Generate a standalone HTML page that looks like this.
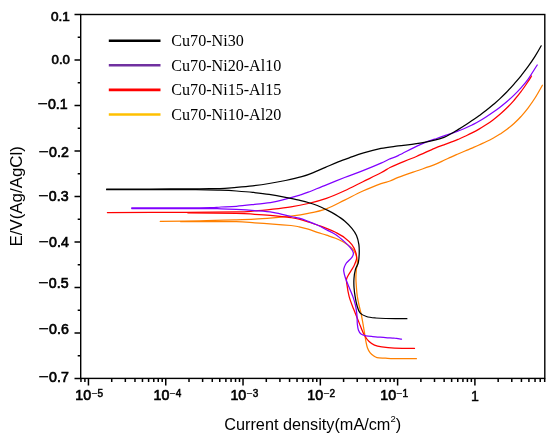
<!DOCTYPE html>
<html><head><meta charset="utf-8"><title>Polarization curves</title>
<style>html,body{margin:0;padding:0;background:#fff}svg{display:block}text{font-family:"Liberation Sans",sans-serif;fill:#000}.b{font-size:13.5px;stroke:#000;stroke-width:.65px}.s{font-size:10px;stroke-width:.5px}.sm{stroke:none;font-size:11px}.m{font-size:18.5px;stroke:none}.lg{font-family:"Liberation Serif",serif;font-size:16.1px}</style></head>
<body>
<svg width="550" height="439" viewBox="0 0 550 439">
<rect width="550" height="439" fill="#fff"/>
<g fill="none" stroke-width="1.25" stroke-linejoin="round" stroke-linecap="round">
<path stroke="#ff8000" d="M160.2,221.3 C166.8,221.2 187.3,221.1 200.0,220.9 C212.7,220.7 227.3,220.2 236.4,219.9 C245.5,219.6 248.5,219.5 254.6,219.2 C260.7,218.9 266.8,218.4 272.9,217.9 C279.0,217.4 285.1,216.9 291.0,216.2 C296.9,215.4 302.3,214.6 308.2,213.4 C314.1,212.2 320.3,211.0 326.4,208.8 C332.5,206.6 338.5,203.1 344.6,200.1 C350.7,197.1 356.8,193.7 362.9,191.0 C369.0,188.3 376.5,185.4 381.0,183.7 C385.5,182.0 387.1,182.1 390.0,181.0 C392.9,179.9 393.8,179.1 398.2,177.4 C402.6,175.7 410.3,173.1 416.4,171.0 C422.5,168.9 430.0,166.5 434.6,164.7 C439.2,162.9 441.3,161.6 444.0,160.3 C446.7,159.0 448.7,158.2 451.0,157.1 C453.3,156.0 455.7,155.0 458.0,154.0 C460.3,153.0 462.7,152.0 465.0,151.0 C467.3,150.0 469.7,149.1 472.0,148.1 C474.3,147.1 476.7,146.1 479.0,145.0 C481.3,143.9 483.7,142.9 486.0,141.8 C488.3,140.7 490.7,139.5 493.0,138.2 C495.3,136.9 497.7,135.6 500.0,134.1 C502.3,132.6 504.7,131.1 507.0,129.3 C509.3,127.5 511.7,125.6 514.0,123.5 C516.3,121.4 518.7,119.1 521.0,116.5 C523.3,113.9 525.7,111.2 528.0,108.1 C530.3,105.0 532.6,101.8 535.0,98.0 C537.4,94.2 541.2,87.3 542.4,85.2"/>
<path stroke="#ff8000" d="M180.5,221.6 C185.4,221.6 200.7,221.5 210.0,221.5 C219.3,221.5 229.0,221.5 236.4,221.7 C243.8,221.9 248.5,222.4 254.6,222.8 C260.7,223.2 266.8,223.7 272.9,224.1 C279.0,224.5 286.6,225.1 291.0,225.5 C295.4,225.9 296.2,226.2 299.1,226.8 C302.0,227.4 305.2,228.3 308.2,229.2 C311.2,230.1 314.3,231.3 317.3,232.3 C320.3,233.3 323.4,234.2 326.4,235.2 C329.4,236.2 332.5,237.0 335.5,238.3 C338.5,239.6 341.9,241.1 344.6,242.8 C347.3,244.5 350.1,246.5 351.9,248.3 C353.7,250.1 354.7,251.7 355.6,253.8 C356.5,255.9 357.2,258.9 357.4,261.0 C357.6,263.1 357.2,265.1 357.0,266.5 C356.8,267.9 356.6,267.2 356.4,269.1 C356.2,271.1 355.9,275.2 355.9,278.2 C355.9,281.2 356.2,284.3 356.4,287.3 C356.6,290.3 356.9,293.4 357.3,296.4 C357.8,299.4 358.4,302.5 359.1,305.5 C359.8,308.5 360.7,311.6 361.3,314.6 C361.9,317.7 362.5,320.8 363.0,323.8 C363.5,326.9 364.0,329.9 364.5,332.9 C365.0,335.9 365.5,339.5 366.0,342.0 C366.5,344.5 366.8,346.2 367.5,348.0 C368.2,349.8 369.0,351.3 370.0,352.6 C371.0,353.9 372.3,355.0 373.5,355.8 C374.7,356.6 375.0,357.2 377.0,357.6 C379.0,358.0 382.6,358.0 385.5,358.2 C388.4,358.4 389.4,358.6 394.5,358.7 C399.6,358.8 412.8,358.7 416.4,358.7"/>
<path stroke="#ff0000" d="M107.4,212.5 C120.8,212.5 166.5,212.4 188.0,212.3 C209.5,212.2 225.3,212.1 236.4,211.9 C247.5,211.7 248.5,211.4 254.6,211.0 C260.7,210.6 266.8,209.9 272.9,209.2 C279.0,208.5 285.1,207.8 291.0,206.8 C296.9,205.9 302.3,204.9 308.2,203.5 C314.1,202.1 320.3,200.4 326.4,198.3 C332.5,196.2 338.5,193.5 344.6,190.7 C350.7,187.9 356.8,184.7 362.9,181.7 C369.0,178.7 376.5,175.2 381.0,172.8 C385.5,170.4 387.1,169.0 390.0,167.5 C392.9,166.0 393.8,165.6 398.2,163.8 C402.6,162.0 410.3,159.1 416.4,156.5 C422.5,153.9 430.0,150.2 434.6,148.3 C439.2,146.4 441.3,145.8 444.0,144.8 C446.7,143.8 448.7,143.1 451.0,142.2 C453.3,141.3 455.7,140.4 458.0,139.4 C460.3,138.4 462.7,137.4 465.0,136.3 C467.3,135.2 469.7,134.1 472.0,132.9 C474.3,131.7 476.7,130.4 479.0,129.1 C481.3,127.8 483.7,126.3 486.0,124.8 C488.3,123.3 490.7,121.7 493.0,119.9 C495.3,118.2 497.7,116.3 500.0,114.3 C502.3,112.3 504.7,110.1 507.0,107.8 C509.3,105.5 511.7,103.0 514.0,100.3 C516.3,97.6 518.7,94.8 521.0,91.7 C523.3,88.6 526.2,84.3 528.0,81.7 C529.8,79.1 530.9,77.0 531.5,76.0"/>
<path stroke="#ff0000" d="M187.8,212.8 C195.9,212.9 225.3,213.1 236.4,213.3 C247.5,213.6 248.5,213.9 254.6,214.3 C260.7,214.7 266.8,215.0 272.9,215.6 C279.0,216.2 286.6,217.1 291.0,217.7 C295.4,218.3 296.2,218.4 299.1,219.1 C302.0,219.8 305.2,220.9 308.2,221.9 C311.2,222.9 314.3,223.9 317.3,225.0 C320.3,226.1 323.4,227.1 326.4,228.3 C329.4,229.5 332.5,230.7 335.5,232.3 C338.5,233.9 341.9,235.6 344.6,237.7 C347.3,239.8 350.1,242.2 351.9,244.6 C353.7,247.0 354.8,249.5 355.6,251.9 C356.4,254.3 356.8,256.8 356.5,259.2 C356.2,261.6 354.4,264.8 353.6,266.5 C352.8,268.2 353.0,267.4 351.9,269.4 C350.8,271.3 347.6,275.8 346.8,278.2 C346.0,280.6 346.4,280.7 346.8,283.7 C347.2,286.7 348.0,292.2 349.1,296.4 C350.2,300.6 352.2,305.5 353.6,309.1 C355.0,312.7 356.1,315.2 357.3,318.2 C358.5,321.2 359.7,324.4 360.9,327.3 C362.1,330.2 363.1,333.1 364.5,335.5 C365.9,337.9 367.4,339.9 369.1,341.5 C370.8,343.1 372.4,344.2 374.5,345.1 C376.6,346.0 378.5,346.4 381.8,346.9 C385.1,347.4 389.1,347.9 394.5,348.2 C399.9,348.4 411.2,348.4 414.5,348.4"/>
<path stroke="#8000ff" d="M131.7,207.9 C143.1,207.9 186.6,207.9 200.0,207.8 C213.4,207.8 208.5,207.7 212.0,207.6 C215.5,207.5 216.9,207.2 221.0,207.0 C225.1,206.8 230.8,206.7 236.4,206.3 C242.0,205.9 248.5,205.1 254.6,204.4 C260.7,203.7 266.8,203.3 272.9,202.2 C279.0,201.1 286.5,198.8 291.0,197.6 C295.5,196.4 297.1,195.9 300.0,195.0 C302.9,194.1 303.8,193.9 308.2,192.2 C312.6,190.5 320.3,187.2 326.4,184.8 C332.5,182.4 338.5,179.9 344.6,177.5 C350.7,175.1 356.8,173.0 362.9,170.6 C369.0,168.2 376.5,165.1 381.0,163.1 C385.5,161.1 387.1,160.1 390.0,158.8 C392.9,157.6 393.8,157.7 398.2,155.6 C402.6,153.5 411.8,148.6 416.4,146.4 C420.9,144.2 422.5,143.5 425.5,142.3 C428.5,141.1 431.5,140.3 434.6,139.2 C437.7,138.1 441.3,136.8 444.0,135.9 C446.7,135.0 448.7,134.4 451.0,133.6 C453.3,132.8 455.7,132.0 458.0,131.1 C460.3,130.2 462.7,129.3 465.0,128.3 C467.3,127.3 469.7,126.2 472.0,125.0 C474.3,123.8 476.7,122.6 479.0,121.3 C481.3,120.0 483.7,118.5 486.0,117.0 C488.3,115.5 490.7,113.9 493.0,112.3 C495.3,110.7 497.7,109.0 500.0,107.2 C502.3,105.4 504.7,103.5 507.0,101.5 C509.3,99.5 511.7,97.4 514.0,95.1 C516.3,92.8 518.7,90.4 521.0,87.8 C523.3,85.2 525.3,83.1 528.0,79.3 C530.7,75.5 535.7,67.4 537.2,65.0"/>
<path stroke="#8000ff" d="M131.7,208.6 C143.1,208.6 185.1,208.6 200.0,208.6 C214.9,208.6 214.9,208.7 221.0,208.8 C227.1,208.9 230.8,209.1 236.4,209.4 C242.0,209.7 248.5,210.1 254.6,210.6 C260.7,211.1 266.8,211.4 272.9,212.4 C279.0,213.4 286.6,215.5 291.0,216.5 C295.4,217.5 296.2,217.4 299.1,218.2 C302.0,219.0 305.2,220.2 308.2,221.3 C311.2,222.4 314.3,223.6 317.3,225.0 C320.3,226.4 323.4,228.1 326.4,229.7 C329.4,231.3 332.5,232.6 335.5,234.6 C338.5,236.6 342.2,239.8 344.6,241.9 C347.0,244.0 348.6,245.6 350.1,247.4 C351.6,249.2 353.1,251.1 353.4,252.8 C353.7,254.5 353.0,255.7 351.9,257.4 C350.8,259.1 347.8,261.3 346.5,262.9 C345.2,264.5 344.9,265.7 344.4,267.0 C343.9,268.3 343.5,269.0 343.7,270.9 C343.9,272.8 344.6,275.5 345.5,278.2 C346.4,280.9 347.9,284.3 349.1,287.3 C350.3,290.3 351.7,293.4 352.8,296.4 C353.9,299.4 354.8,302.5 355.5,305.5 C356.2,308.5 356.6,311.6 356.9,314.6 C357.2,317.7 357.1,321.2 357.3,323.8 C357.6,326.4 357.8,328.3 358.4,330.0 C359.0,331.7 359.7,333.0 361.0,334.0 C362.3,335.0 364.1,335.4 366.0,335.8 C367.9,336.2 369.4,336.3 372.7,336.6 C375.9,336.9 381.9,337.3 385.5,337.6 C389.1,337.9 391.8,337.9 394.5,338.2 C397.2,338.4 400.3,339.0 401.5,339.1"/>
<path stroke="#000000" d="M106.6,189.0 C113.8,189.0 134.4,189.0 150.0,189.0 C165.6,189.0 188.3,188.9 200.0,188.8 C211.7,188.7 213.9,188.8 220.0,188.6 C226.1,188.4 231.0,187.8 236.4,187.4 C241.8,187.0 247.2,186.6 252.7,185.9 C258.1,185.2 263.6,184.4 269.1,183.5 C274.6,182.6 280.1,181.6 285.5,180.5 C290.9,179.4 297.3,178.0 301.8,176.7 C306.3,175.4 308.8,174.4 312.7,172.8 C316.6,171.2 321.1,169.2 325.4,167.4 C329.6,165.6 333.9,163.6 338.2,161.9 C342.4,160.2 346.7,158.7 350.9,157.2 C355.1,155.7 358.6,154.4 363.6,152.9 C368.6,151.4 375.2,149.6 381.0,148.4 C386.8,147.2 392.3,146.7 398.2,145.9 C404.1,145.1 410.3,144.7 416.4,143.7 C422.5,142.7 430.0,141.1 434.6,140.1 C439.2,139.1 441.3,138.4 444.0,137.4 C446.7,136.4 448.7,135.1 451.0,133.8 C453.3,132.5 455.7,131.0 458.0,129.6 C460.3,128.2 462.7,126.7 465.0,125.2 C467.3,123.7 469.7,122.2 472.0,120.6 C474.3,119.0 476.7,117.4 479.0,115.7 C481.3,114.0 483.7,112.3 486.0,110.5 C488.3,108.7 490.7,106.8 493.0,104.8 C495.3,102.8 497.7,100.8 500.0,98.6 C502.3,96.4 504.7,94.1 507.0,91.7 C509.3,89.3 511.7,86.8 514.0,84.1 C516.3,81.4 518.7,78.7 521.0,75.8 C523.3,72.9 525.7,69.9 528.0,66.7 C530.3,63.5 532.8,59.9 535.0,56.4 C537.2,52.9 540.2,47.6 541.2,45.8"/>
<path stroke="#000000" d="M106.6,189.7 C113.8,189.7 135.1,189.7 150.0,189.7 C164.9,189.7 184.3,189.6 196.0,189.7 C207.7,189.8 213.3,190.0 220.0,190.2 C226.7,190.4 231.0,190.6 236.4,191.0 C241.8,191.4 247.2,191.8 252.7,192.4 C258.1,193.0 263.6,193.6 269.1,194.4 C274.6,195.2 280.5,196.3 285.5,197.3 C290.5,198.3 295.3,199.3 299.1,200.2 C302.9,201.1 305.2,201.6 308.2,202.5 C311.2,203.4 314.3,204.3 317.3,205.5 C320.3,206.7 323.4,208.2 326.4,209.7 C329.4,211.2 332.5,212.7 335.5,214.6 C338.5,216.5 341.9,218.7 344.6,221.0 C347.3,223.3 349.9,225.9 351.9,228.3 C353.9,230.7 355.3,232.8 356.5,235.5 C357.7,238.2 358.4,241.5 358.9,244.6 C359.3,247.7 359.3,250.8 359.2,253.8 C359.1,256.9 358.9,260.3 358.3,262.9 C357.7,265.4 356.2,266.6 355.5,269.1 C354.8,271.7 354.2,275.2 354.0,278.2 C353.8,281.2 353.8,284.3 354.0,287.3 C354.2,290.3 354.6,293.4 355.1,296.4 C355.6,299.4 356.2,302.8 357.0,305.5 C357.8,308.2 358.4,311.0 360.0,312.8 C361.6,314.6 363.8,315.6 366.4,316.5 C369.0,317.4 372.3,317.7 375.5,318.0 C378.7,318.3 380.3,318.4 385.5,318.5 C390.7,318.6 403.3,318.7 406.9,318.7"/>
</g>
<rect x="80.7" y="14.5" width="464.1" height="363.9" fill="none" stroke="#000" stroke-width="1.4"/>
<path d="M80.7,14.50H74.5M80.7,37.24H77.7M80.7,59.99H74.5M80.7,82.73H77.7M80.7,105.47H74.5M80.7,128.22H77.7M80.7,150.96H74.5M80.7,173.71H77.7M80.7,196.45H74.5M80.7,219.19H77.7M80.7,241.94H74.5M80.7,264.68H77.7M80.7,287.43H74.5M80.7,310.17H77.7M80.7,332.91H74.5M80.7,355.66H77.7M80.7,378.40H74.5M80.96,378.4V381.9M84.91,378.4V381.9M88.45,378.4V385.4M111.72,378.4V381.9M125.33,378.4V381.9M134.98,378.4V381.9M142.47,378.4V381.9M148.59,378.4V381.9M153.77,378.4V381.9M158.25,378.4V381.9M162.20,378.4V381.9M165.74,378.4V385.4M189.01,378.4V381.9M202.62,378.4V381.9M212.27,378.4V381.9M219.76,378.4V381.9M225.88,378.4V381.9M231.06,378.4V381.9M235.54,378.4V381.9M239.49,378.4V381.9M243.03,378.4V385.4M266.30,378.4V381.9M279.91,378.4V381.9M289.56,378.4V381.9M297.05,378.4V381.9M303.17,378.4V381.9M308.35,378.4V381.9M312.83,378.4V381.9M316.78,378.4V381.9M320.32,378.4V385.4M343.59,378.4V381.9M357.20,378.4V381.9M366.85,378.4V381.9M374.34,378.4V381.9M380.46,378.4V381.9M385.64,378.4V381.9M390.12,378.4V381.9M394.07,378.4V381.9M397.61,378.4V385.4M420.88,378.4V381.9M434.49,378.4V381.9M444.14,378.4V381.9M451.63,378.4V381.9M457.75,378.4V381.9M462.93,378.4V381.9M467.41,378.4V381.9M471.36,378.4V381.9M474.90,378.4V385.4M498.17,378.4V381.9M511.78,378.4V381.9M521.43,378.4V381.9M528.92,378.4V381.9M535.04,378.4V381.9M540.22,378.4V381.9M544.70,378.4V381.9" stroke="#000" stroke-width="1.5" fill="none"/>
<text class="b" style="font-size:13.6px" x="69.8" y="21.2" text-anchor="end">0.1</text>
<text class="b" style="font-size:13.2px" x="69.9" y="63.7" text-anchor="end">0.0</text>
<text class="b" style="font-size:14.2px" x="67.7" y="109.0" text-anchor="end"><tspan class="m" dy="1.4">−</tspan><tspan dy="-1.4">0.1</tspan></text>
<text class="b" style="font-size:14.2px" x="68.8" y="156.8" text-anchor="end"><tspan class="m" dy="1.4">−</tspan><tspan dy="-1.4">0.2</tspan></text>
<text class="b" style="font-size:14.2px" x="68.6" y="201.0" text-anchor="end"><tspan class="m" dy="1.4">−</tspan><tspan dy="-1.4">0.3</tspan></text>
<text class="b" style="font-size:14.2px" x="68.8" y="246.9" text-anchor="end"><tspan class="m" dy="1.4">−</tspan><tspan dy="-1.4">0.4</tspan></text>
<text class="b" style="font-size:14.2px" x="68.6" y="288.0" text-anchor="end"><tspan class="m" dy="1.4">−</tspan><tspan dy="-1.4">0.5</tspan></text>
<text class="b" style="font-size:14.2px" x="68.8" y="333.9" text-anchor="end"><tspan class="m" dy="1.4">−</tspan><tspan dy="-1.4">0.6</tspan></text>
<text class="b" style="font-size:14.2px" x="68.8" y="382.0" text-anchor="end"><tspan class="m" dy="1.4">−</tspan><tspan dy="-1.4">0.7</tspan></text>
<text class="b" style="font-size:14.2px" x="75.35" y="400.3" text-anchor="start">10<tspan class="s" dx="0" dy="-3.3"><tspan class="sm">−</tspan>5</tspan></text>
<text class="b" style="font-size:14.2px" x="153.55" y="400.3" text-anchor="start">10<tspan class="s" dx="0" dy="-3.3"><tspan class="sm">−</tspan>4</tspan></text>
<text class="b" style="font-size:14.2px" x="230.45" y="400.3" text-anchor="start">10<tspan class="s" dx="0" dy="-3.3"><tspan class="sm">−</tspan>3</tspan></text>
<text class="b" style="font-size:14.2px" x="307.35" y="400.3" text-anchor="start">10<tspan class="s" dx="0" dy="-3.3"><tspan class="sm">−</tspan>2</tspan></text>
<text class="b" style="font-size:14.2px" x="380.25" y="400.3" text-anchor="start">10<tspan class="s" dx="0" dy="-3.3"><tspan class="sm">−</tspan>1</tspan></text>
<text x="474.9" y="400.5" text-anchor="middle" font-size="14.2" stroke="#000" stroke-width=".4">1</text>
<text x="312.7" y="429.5" text-anchor="middle" font-size="16.25">Current density(mA/cm<tspan font-size="9.5" dy="-7.3">2</tspan><tspan dy="7.3">)</tspan></text>
<text transform="translate(22.2,196.3) rotate(-90)" text-anchor="middle" font-size="16" textLength="100.4" lengthAdjust="spacingAndGlyphs">E/V(Ag/AgCl)</text>
<line x1="108.8" x2="160.5" y1="40.8" y2="40.8" stroke="#000000" stroke-width="2.6"/>
<text class="lg" x="171.3" y="46.3">Cu70-Ni30</text>
<line x1="108.8" x2="160.5" y1="65.3" y2="65.3" stroke="#7030a0" stroke-width="2.6"/>
<text class="lg" x="171.3" y="70.8">Cu70-Ni20-Al10</text>
<line x1="108.8" x2="160.5" y1="89.9" y2="89.9" stroke="#ff0000" stroke-width="2.6"/>
<text class="lg" x="171.3" y="95.4">Cu70-Ni15-Al15</text>
<line x1="108.8" x2="160.5" y1="114.5" y2="114.5" stroke="#ffc000" stroke-width="2.6"/>
<text class="lg" x="171.3" y="120.0">Cu70-Ni10-Al20</text>
</svg>
</body></html>
